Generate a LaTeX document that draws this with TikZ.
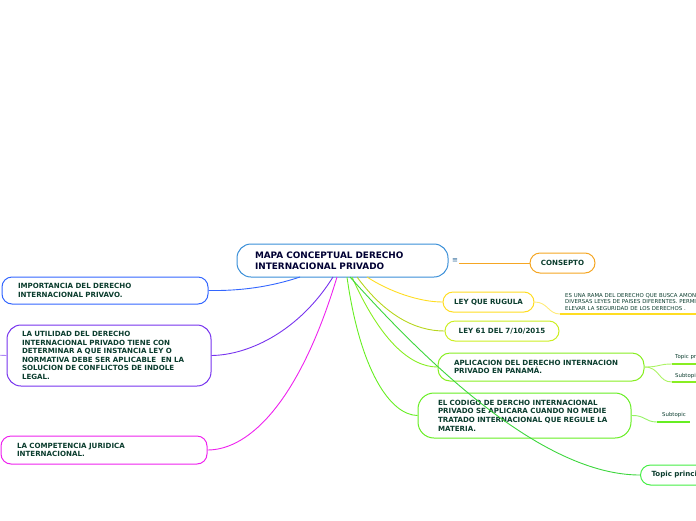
\documentclass[tikz,border=0pt]{standalone}
\usepackage{fontspec}
\setmainfont{DejaVu Sans}
\definecolor{txt}{HTML}{0B3D2E}
\definecolor{cRoot}{HTML}{3A8FD8}
\definecolor{cImp}{HTML}{3366FF}
\definecolor{cUti}{HTML}{7733EE}
\definecolor{cCom}{HTML}{EE22EE}
\definecolor{cCon}{HTML}{F5A623}
\definecolor{cLey}{HTML}{FFDD22}
\definecolor{cL61}{HTML}{CCEE22}
\definecolor{cApl}{HTML}{88EE22}
\definecolor{cCod}{HTML}{66EE22}
\definecolor{cTop}{HTML}{44EE44}
\begin{document}
\begin{tikzpicture}[x={(1pt,0)},y={(0,-1pt)},
  box/.style={draw=#1,line width=1pt,rounded corners=10pt,fill=white,font=\bfseries\fontsize{7.1}{8.6}\selectfont,text=txt,align=left,inner ysep=0pt},
  lnk/.style={line width=0.9pt,draw=#1},
  sm/.style={font=\fontsize{5.4}{6.4}\selectfont,text=txt,inner sep=0pt,anchor=west}]
\useasboundingbox (0,0) rectangle (696,520);
\node[box=cRoot,minimum width=211,minimum height=33,text width=175,inner xsep=18,rounded corners=14pt,font=\bfseries\fontsize{8.9}{11}\selectfont,text=black!80!blue] (root) at (342.5,260.5) {MAPA CONCEPTUAL DERECHO\\INTERNACIONAL PRIVADO};
\node[box=cImp,minimum width=206,minimum height=27,text width=174,inner xsep=16] (imp) at (105,290.5) {IMPORTANCIA DEL DERECHO\\INTERNACIONAL PRIVAVO.};
\node[box=cUti,minimum width=204,minimum height=61,text width=174,inner xsep=15,rounded corners=14pt] (uti) at (109,355.5) {LA UTILIDAD DEL DERECHO\\INTERNACIONAL PRIVADO TIENE CON\\DETERMINAR A QUE INSTANCIA LEY O\\NORMATIVA DEBE SER APLICABLE\ \ EN LA\\SOLUCION DE CONFLICTOS DE INDOLE\\LEGAL.};
\node[box=cCom,minimum width=206,minimum height=28,text width=174,inner xsep=16] (com) at (104,450) {LA COMPETENCIA JURIDICA\\INTERNACIONAL.};
\node[box=cCon,minimum width=65,minimum height=20,text width=60,inner xsep=2,align=center] (con) at (562.5,263) {CONSEPTO};
\node[box=cLey,minimum width=91,minimum height=20,text width=85,inner xsep=3,align=center] (ley) at (488.5,302) {LEY QUE RUGULA};
\node[box=cL61,minimum width=114,minimum height=20,text width=108,inner xsep=3,align=center] (l61) at (502,331) {LEY 61 DEL 7/10/2015};
\node[box=cApl,minimum width=206,minimum height=28,text width=174,inner xsep=16,rounded corners=12pt] (apl) at (541,367) {APLICACION DEL DERECHO INTERNACION\\PRIVADO EN PANAMÁ.};
\node[box=cCod,minimum width=213,minimum height=45,text width=173,inner xsep=20,rounded corners=16pt] (cod) at (524.5,415.5) {EL CODIGO DE DERCHO INTERNACIONAL\\PRIVADO SE APLICARA CUANDO NO MEDIE\\TRATADO INTERNACIONAL QUE REGULE LA\\MATERIA.};
\node[box=cTop,minimum width=80,minimum height=20,text width=70,inner xsep=11,anchor=west] (top) at (640,475) {Topic principal};
\node[font=\fontsize{7}{7}\selectfont,text=cRoot!70!black] (eq) at (455,261) {≡};
\node[sm,align=left,text width=170] (note) at (565,302) {ES UNA RAMA DEL DERECHO QUE BUSCA AMONIZAR\\DIVERSAS LEYES DE PAISES DIFERENTES. PERMITIENDO\\ELEVAR LA SEGURIDAD DE LOS DERECHOS .};
\node[sm] (s1) at (675,357) {Topic principal};
\node[sm] (s2) at (675,376) {Subtopic};
\node[sm] (s3) at (662,415) {Subtopic};
\coordinate (n1) at (560,314); \coordinate (n2) at (700,314);
\coordinate (a1) at (672,364); \coordinate (a2) at (700,364);
\coordinate (b1) at (672,382); \coordinate (b2) at (700,382);
\coordinate (c1) at (657,422); \coordinate (c2) at (690,422);
\coordinate (lo) at (-5,355);
\draw[lnk=cImp] (300,277) .. controls (270,287) and (240,291) .. (imp.east);
\draw[lnk=cUti] (333,277) .. controls (300,330) and (250,355) .. (uti.east);
\draw[lnk=cUti!60] (uti.west) -- (lo);
\draw[lnk=cCom] (337,277) .. controls (300,400) and (250,450) .. (com.east);
\draw[lnk=cCon] (459,263) -- (con.west);
\draw[lnk=cLey] (367,277) .. controls (390,292) and (420,302) .. (ley.west);
\draw[lnk=cL61!90!black] (357,277) .. controls (385,315) and (415,331) .. (l61.west);
\draw[lnk=cApl] (352,277) .. controls (380,340) and (410,367) .. (apl.west);
\draw[lnk=cCod] (347,277) .. controls (360,370) and (390,415) .. (cod.west);
\draw[lnk=cTop!90!black] (350,277) .. controls (460,400) and (560,475) .. (top.west);
\draw[lnk=cLey!60] (ley.east) .. controls (548,302) and (548,314) .. (n1);
\draw[lnk=cLey,line width=1.5pt] (n1) -- (n2);
\draw[lnk=cApl!70] (apl.east) .. controls (660,367) and (658,364) .. (a1);
\draw[lnk=cApl!70] (apl.east) .. controls (660,367) and (658,382) .. (b1);
\draw[lnk=cApl,line width=1.5pt] (a1) -- (a2); \draw[lnk=cApl,line width=1.5pt] (b1) -- (b2);
\draw[lnk=cCod!70] (cod.east) .. controls (645,415) and (645,422) .. (c1);
\draw[lnk=cCod,line width=1.5pt] (c1) -- (c2);
\end{tikzpicture}
\end{document}
